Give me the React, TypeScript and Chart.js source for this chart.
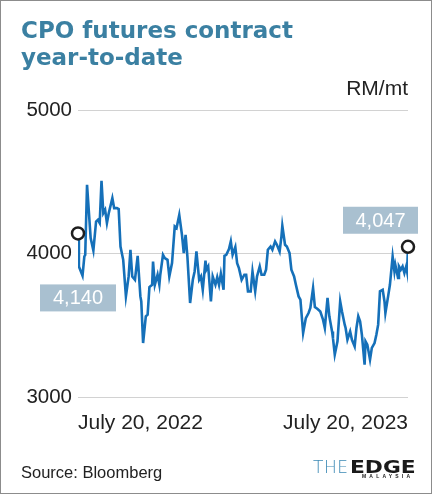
import { useEffect, useRef } from "react";
import { Chart, registerables } from "chart.js";

Chart.register(...registerables);

// Calendar-day offset from July 20, 2022 and CPO futures price (RM/mt)
const days = [
  0, 1, 5, 7, 8, 10, 14, 17, 20, 22, 24, 26, 28, 30, 32, 34, 38, 40, 43, 45,
  47, 50, 53, 56, 58, 60, 63, 66, 69, 70, 72, 75, 77, 79, 82, 83, 85, 88, 90, 91,
  94, 96, 99, 101, 104, 107, 109, 112, 115, 117, 119, 121, 124, 127, 129, 131, 134, 136, 138, 141,
  142, 144, 147, 149, 152, 154, 156, 158, 161, 162, 164, 167, 169, 171, 174, 176, 178, 181, 184, 186,
  188, 191, 193, 196, 198, 201, 203, 206, 208, 210, 213, 215, 218, 220, 223, 225, 226, 229, 231, 234,
  236, 239, 241, 244, 246, 249, 252, 255, 257, 260, 262, 265, 268, 271, 273, 276, 278, 279, 281, 282,
  284, 287, 290, 292, 295, 296, 298, 301, 303, 306, 308, 310, 312, 314, 317, 318, 320, 323, 325, 328,
  330, 332, 334, 337, 339, 340, 343, 345, 348, 350, 351, 354, 355, 357, 359, 361, 363, 364, 365,
];
const prices = [
  4140, 3910, 3845, 3979, 3991, 4478, 4107, 4021, 4223, 4235, 4212, 4506, 4281, 4304, 4212, 4281, 4386, 4316, 4316, 4309,
  4049, 3956, 3701, 3840, 4026, 3840, 3817, 3984, 3701, 3666, 3376, 3562, 3574, 3766, 3782, 3944, 3782, 3852, 3782, 3852,
  3991, 3968, 3956, 3840, 3933, 4188, 4177, 4269, 4130, 4003, 4130, 3979, 3655, 3817, 3875, 4014, 3817, 3840, 3747, 3951,
  3887, 3910, 3666, 3840, 3782, 3835, 3782, 3859, 3747, 3984, 3991, 4031, 4084, 3991, 4045, 3933, 3898, 3817, 3852, 3852,
  3736, 3736, 3875, 3736, 3840, 3910, 3852, 3852, 3887, 4026, 4049, 4026, 4084, 4061, 4014, 4118, 4193, 4061, 4049, 4003,
  3887, 3840, 3782, 3701, 3678, 3446, 3550, 3585, 3620, 3759, 3627, 3613, 3596, 3539, 3481, 3690, 3562, 3527, 3457, 3411,
  3295, 3388, 3666, 3596, 3504, 3481, 3399, 3457, 3399, 3353, 3481, 3562, 3527, 3434, 3225, 3388, 3365, 3260, 3342, 3376,
  3434, 3504, 3736, 3747, 3666, 3585, 3701, 3782, 3979, 3875, 3921, 3829, 3910, 3887, 3910, 3864, 3910, 3875, 4047,
];
const xTickLabels = ["July 20, 2022", "July 20, 2023"];
const yTicks = [3000, 4000, 5000];

const SANS = "'Liberation Sans', Arial, Helvetica, sans-serif";
const LINE_COLOR = "#1570b9";
const BOX_COLOR = "#a9c0d0";

const markerPlugin = {
  id: "endMarkers",
  afterDatasetsDraw(chart: any) {
    const meta = chart.getDatasetMeta(0);
    const pts = meta.data;
    if (!pts || pts.length < 2) return;
    const first = pts[0];
    const last = pts[pts.length - 1];
    const ctx = chart.ctx as CanvasRenderingContext2D;
    const fmt = (v: number) => v.toLocaleString("en-US");
    const drawBox = (x: number, y: number, w: number, h: number, text: string) => {
      ctx.fillStyle = BOX_COLOR;
      ctx.fillRect(x, y, w, h);
      ctx.fillStyle = "#ffffff";
      ctx.font = `20px ${SANS}`;
      ctx.textAlign = "center";
      ctx.textBaseline = "middle";
      ctx.fillText(text, x + w / 2, y + h / 2 + 1);
    };
    ctx.save();
    drawBox(first.x - 38, first.y + 51, 76, 27, fmt(prices[0]));
    drawBox(last.x + 10 - 75, last.y - 13 - 27, 75, 27, fmt(prices[prices.length - 1]));
    for (const p of [first, last]) {
      ctx.beginPath();
      ctx.arc(p.x, p.y, 6, 0, Math.PI * 2);
      ctx.fillStyle = "#ffffff";
      ctx.fill();
      ctx.lineWidth = 2.5;
      ctx.strokeStyle = "#1e1e1e";
      ctx.stroke();
    }
    ctx.restore();
  },
};

export default function App() {
  const canvasRef = useRef<HTMLCanvasElement | null>(null);

  useEffect(() => {
    if (!canvasRef.current) return;
    const chart = new Chart(canvasRef.current, {
      type: "line",
      data: {
        datasets: [
          {
            data: days.map((d, i) => ({ x: d, y: prices[i] })),
            borderColor: LINE_COLOR,
            borderWidth: 2.6,
            pointRadius: 0,
            tension: 0,
            fill: false,
          },
        ],
      },
      options: {
        animation: false,
        responsive: false,
        events: [],
        layout: { padding: { top: 110, right: 24, bottom: 0, left: 0 } },
        plugins: {
          legend: { display: false },
          tooltip: { enabled: false },
          title: { display: false },
        },
        scales: {
          x: {
            type: "linear",
            min: days[0],
            max: days[days.length - 1],
            afterBuildTicks: (scale: any) => {
              scale.ticks = [{ value: days[0] }, { value: days[days.length - 1] }];
            },
            afterFit: (scale: any) => {
              scale.height = 97;
            },
            grid: { display: false, drawTicks: false },
            border: { display: false },
            ticks: {
              align: "inner",
              maxRotation: 0,
              autoSkip: false,
              padding: 14,
              color: "#222222",
              font: { family: SANS, size: 21 },
              callback: (_v: any, i: number) => xTickLabels[i],
            },
          },
          y: {
            min: yTicks[0],
            max: yTicks[yTicks.length - 1],
            afterBuildTicks: (scale: any) => {
              scale.ticks = yTicks.map((v) => ({ value: v }));
            },
            afterFit: (scale: any) => {
              scale.width = 78;
            },
            grid: { color: "#d2d2d2", lineWidth: 1, drawTicks: false },
            border: { display: false },
            ticks: {
              padding: 6,
              color: "#222222",
              font: { family: SANS, size: 20.5 },
              callback: (v: any) => String(v),
            },
          },
        },
      },
      plugins: [markerPlugin],
    } as any);
    return () => chart.destroy();
  }, []);

  const abs = (s: any) => ({ position: "absolute", margin: 0, whiteSpace: "nowrap", ...s });

  return (
    <div style={{ position: "fixed", left: 0, top: 0, width: 432, height: 494, background: "#ffffff", overflow: "hidden" }}>
      <canvas ref={canvasRef} width={432} height={494} style={{ position: "absolute", left: 0, top: 0, width: 432, height: 494, display: "block" }} />
      <div
        style={abs({
          left: 21,
          top: 16.8,
          fontFamily: "'DejaVu Sans', sans-serif",
          fontWeight: "bold",
          fontSize: 23,
          lineHeight: "26.7px",
          color: "#3b80a2",
        })}
      >
        CPO futures contract
        <br />
        year-to-date
      </div>
      <div style={abs({ right: 24, top: 77.2, fontFamily: SANS, fontSize: 21, lineHeight: "21px", color: "#222222" })}>RM/mt</div>
      <div style={abs({ left: 21, top: 464, fontFamily: SANS, fontSize: 16.5, lineHeight: "16.5px", color: "#222222" })}>
        Source: Bloomberg
      </div>
      <div
        style={abs({
          left: 313,
          top: 459,
          fontFamily: "'DejaVu Sans', sans-serif",
          fontWeight: 200,
          fontSize: 17,
          lineHeight: "17px",
          color: "#3d8ab5",
          letterSpacing: "0.5px",
        })}
      >
        THE
      </div>
      <div
        style={abs({
          left: 350,
          top: 459,
          fontFamily: "'DejaVu Sans', sans-serif",
          fontWeight: "bold",
          fontSize: 17,
          lineHeight: "17px",
          color: "#1a1a1a",
          transform: "scaleX(1.28)",
          transformOrigin: "left top",
        })}
      >
        EDGE
      </div>
      <div
        style={abs({
          left: 362,
          top: 474,
          fontFamily: SANS,
          fontWeight: "bold",
          fontSize: 5,
          lineHeight: "5px",
          letterSpacing: "3.2px",
          color: "#1a1a1a",
        })}
      >
        MALAYSIA
      </div>
      <div style={abs({ left: 0, top: 0, width: 432, height: 494, boxSizing: "border-box", border: "1px solid #8c8c8c", pointerEvents: "none" })} />
    </div>
  );
}
